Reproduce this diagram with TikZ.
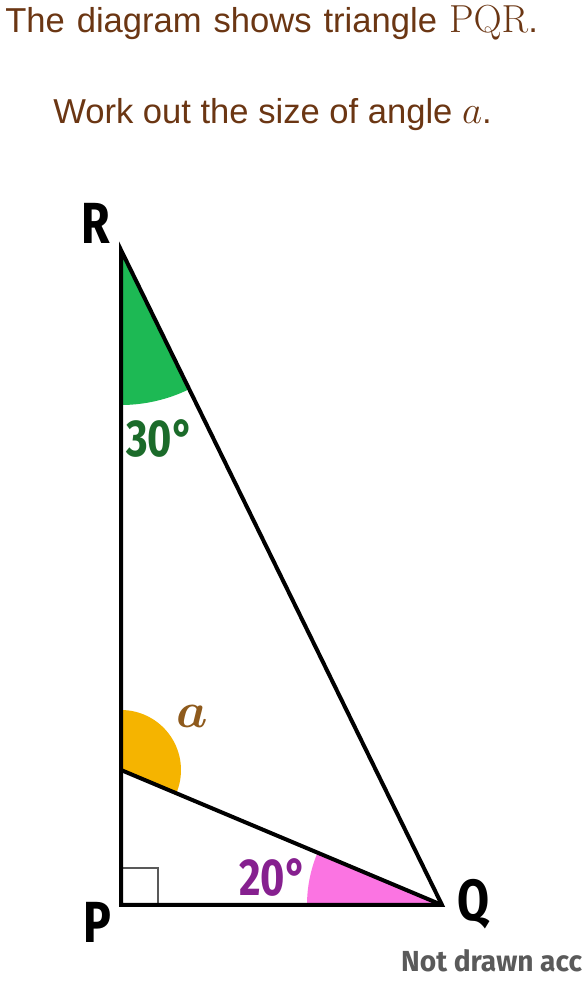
\documentclass[tikz,border=0pt]{standalone}
\usepackage{amsmath}
\usepackage{bm}
\usepackage{graphicx}
\usepackage[no-math]{fontspec}
\setmainfont{Liberation Sans}
\newfontfamily\lblfont[FakeStretch=0.8]{Fira Sans}
\newfontfamily\notefont[FakeStretch=0.97]{Fira Sans}
\definecolor{txtbrown}{HTML}{6B3613}
\definecolor{agreen}{HTML}{1DB954}
\definecolor{agreentxt}{HTML}{1B6B2A}
\definecolor{aorange}{HTML}{F5B400}
\definecolor{apink}{HTML}{FB74E2}
\definecolor{apurple}{HTML}{86208F}
\definecolor{abrown}{HTML}{8E5A1C}
\definecolor{notegray}{HTML}{5A5A5A}
\newcommand{\hdmath}[1]{\scalebox{1.13}{$#1$}}
\tikzset{
  edge/.style={line width=4pt, line join=miter, line cap=round},
  vlabel/.style={font=\lblfont\bfseries\fontsize{58}{60}\selectfont, inner sep=0pt},
  anglabel/.style={font=\lblfont\bfseries\fontsize{52}{56}\selectfont, inner sep=0pt},
  heading/.style={font=\fontsize{24.88}{30}\selectfont, scale=1.39, text=txtbrown, inner sep=0pt, anchor=base west}
}
\begin{document}
\begin{tikzpicture}[x=1pt,y=1pt]
\clip (0,0) rectangle (582,983);
\fill[white] (0,0) rectangle (582,983);
\coordinate (P) at (121,78);
\coordinate (R) at (121,733);
\coordinate (Q) at (442,78);
\coordinate (X) at (121,213);
% angle sectors
\fill[agreen] (R) -- ++(-90:155pt) arc[start angle=-90, end angle=-63.9, radius=155pt] -- cycle;
\fill[aorange] (X) -- ++(90:60pt) arc[start angle=90, end angle=-22.8, radius=60pt] -- cycle;
\fill[apink] (Q) -- ++(180:135pt) arc[start angle=180, end angle=157.2, radius=135pt] -- cycle;
% right angle mark
\draw[gray!70!black, line width=2pt] (121,115) -- (158,115) -- (158,78);
% triangle
\draw[edge] (P) -- (R) -- (Q) -- cycle;
\draw[edge] (X) -- (Q);
% labels
\node[heading] (t1) at (5,950) {\spaceskip=8.6pt plus 1pt The diagram shows triangle \hdmath{\mathrm{PQR}}.};
\node[heading] (t2) at (53,859) {Work out the size of angle \hdmath{a}.};
\node[vlabel] (lR) at (96,760) {R};
\node[vlabel] (lP) at (97,61) {P};
\node[vlabel] (lQ) at (474,79) {Q};
\node[anglabel, text=agreentxt] (l30) at (160,545) {30°};
\node[anglabel, text=apurple] (l20) at (273,106) {20°};
\node[inner sep=0pt, text=abrown, font=\fontsize{24.88}{30}\selectfont, scale=2] (la) at (192,267) {$\bm{a}$};
\node[inner sep=0pt, anchor=base west, text=notegray, font=\notefont\bfseries\fontsize{29}{32}\selectfont] (note) at (401,11) {Not drawn accurately};
\end{tikzpicture}
\end{document}
